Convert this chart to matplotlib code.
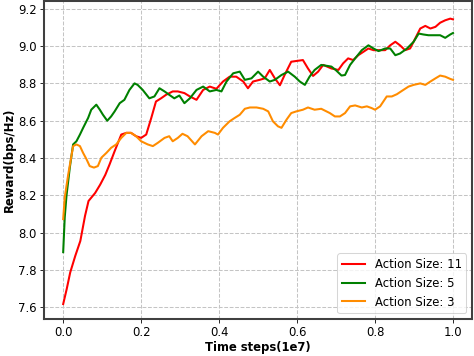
import matplotlib
matplotlib.use('Agg')
import matplotlib.pyplot as plt

'''Data read off the reference chart'''

    # Action Size: 11
red_t = [0.0, 0.009, 0.018, 0.031, 0.044, 0.056, 0.065, 0.082, 0.095, 0.108, 0.119, 0.132,
         0.149, 0.162, 0.174, 0.187, 0.2, 0.213, 0.226, 0.238, 0.251, 0.264, 0.281, 0.294,
         0.311, 0.325, 0.342, 0.359, 0.376, 0.393, 0.41, 0.427, 0.444, 0.462, 0.474, 0.487,
         0.504, 0.517, 0.53, 0.543, 0.556, 0.568, 0.585, 0.598, 0.615, 0.628, 0.641, 0.654,
         0.667, 0.688, 0.706, 0.718, 0.731, 0.744, 0.757, 0.77, 0.783, 0.796, 0.809, 0.826,
         0.839, 0.852, 0.864, 0.877, 0.89, 0.903, 0.916, 0.929, 0.942, 0.955, 0.967, 0.98,
         0.993, 1.0]
red_r = [7.618, 7.698, 7.787, 7.876, 7.956, 8.09, 8.17, 8.213, 8.258, 8.31, 8.366, 8.437,
         8.526, 8.535, 8.535, 8.517, 8.508, 8.526, 8.615, 8.703, 8.72, 8.739, 8.757, 8.757,
         8.748, 8.73, 8.712, 8.765, 8.783, 8.771, 8.81, 8.836, 8.836, 8.81, 8.774, 8.81,
         8.819, 8.827, 8.872, 8.827, 8.79, 8.845, 8.916, 8.92, 8.925, 8.88, 8.84, 8.863,
         8.899, 8.88, 8.872, 8.907, 8.934, 8.925, 8.951, 8.969, 8.987, 8.978, 8.978, 8.978,
         9.004, 9.023, 9.004, 8.978, 8.987, 9.04, 9.094, 9.108, 9.094, 9.103, 9.125, 9.138,
         9.147, 9.143]

    # Action Size: 5
green_t = [0.0, 0.004, 0.0085, 0.017, 0.0255, 0.034, 0.043, 0.051, 0.064, 0.072, 0.085, 0.094,
           0.102, 0.113, 0.123, 0.132, 0.145, 0.157, 0.17, 0.183, 0.191, 0.204, 0.221, 0.234,
           0.247, 0.26, 0.272, 0.285, 0.298, 0.311, 0.325, 0.342, 0.359, 0.376, 0.393, 0.406,
           0.419, 0.436, 0.453, 0.466, 0.483, 0.5, 0.513, 0.53, 0.543, 0.56, 0.577, 0.594,
           0.607, 0.62, 0.632, 0.645, 0.662, 0.688, 0.699, 0.714, 0.723, 0.736, 0.749, 0.766,
           0.783, 0.796, 0.809, 0.826, 0.839, 0.852, 0.864, 0.882, 0.899, 0.912, 0.924, 0.937,
           0.95, 0.967, 0.98, 0.993, 1.0]
green_r = [7.896, 8.083, 8.198, 8.349, 8.473, 8.49, 8.526, 8.561, 8.615, 8.659, 8.686, 8.659,
           8.632, 8.6, 8.623, 8.65, 8.694, 8.712, 8.765, 8.8, 8.792, 8.765, 8.72, 8.73,
           8.774, 8.757, 8.739, 8.72, 8.735, 8.694, 8.72, 8.765, 8.783, 8.757, 8.765, 8.757,
           8.81, 8.854, 8.863, 8.819, 8.827, 8.863, 8.836, 8.81, 8.819, 8.845, 8.863, 8.836,
           8.81, 8.792, 8.836, 8.872, 8.899, 8.89, 8.872, 8.842, 8.845, 8.899, 8.934, 8.978,
           9.004, 8.987, 8.973, 8.987, 8.987, 8.951, 8.96, 8.987, 9.023, 9.067, 9.062, 9.058,
           9.058, 9.058, 9.044, 9.062, 9.07]

    # Action Size: 3
orange_t = [0.0, 0.004, 0.013, 0.0255, 0.034, 0.043, 0.051, 0.06, 0.068, 0.079, 0.089, 0.098,
            0.111, 0.123, 0.136, 0.149, 0.162, 0.174, 0.187, 0.2, 0.217, 0.23, 0.243, 0.26,
            0.272, 0.281, 0.294, 0.306, 0.319, 0.338, 0.355, 0.372, 0.389, 0.397, 0.41, 0.427,
            0.44, 0.453, 0.466, 0.479, 0.496, 0.513, 0.526, 0.538, 0.551, 0.56, 0.573, 0.585,
            0.598, 0.615, 0.628, 0.645, 0.662, 0.684, 0.697, 0.71, 0.723, 0.736, 0.749, 0.766,
            0.779, 0.791, 0.8, 0.813, 0.83, 0.843, 0.856, 0.869, 0.886, 0.899, 0.916, 0.929,
            0.942, 0.955, 0.967, 0.98, 0.993, 1.0]
orange_r = [8.073, 8.189, 8.313, 8.464, 8.473, 8.464, 8.428, 8.393, 8.357, 8.349, 8.357, 8.402,
            8.428, 8.455, 8.473, 8.508, 8.535, 8.535, 8.517, 8.49, 8.473, 8.464, 8.482, 8.508,
            8.517, 8.49, 8.508, 8.53, 8.517, 8.473, 8.517, 8.544, 8.535, 8.526, 8.562, 8.597,
            8.615, 8.632, 8.664, 8.671, 8.671, 8.664, 8.65, 8.597, 8.57, 8.562, 8.606, 8.641,
            8.65, 8.659, 8.671, 8.659, 8.664, 8.641, 8.623, 8.623, 8.641, 8.677, 8.682, 8.671,
            8.677, 8.668, 8.659, 8.677, 8.73, 8.73, 8.742, 8.76, 8.783, 8.792, 8.8, 8.792,
            8.81, 8.827, 8.842, 8.836, 8.824, 8.819]

y_ticks = [7.6, 7.8, 8.0, 8.2, 8.4, 8.6, 8.8, 9.0, 9.2]


'''PLOT GRAPH'''

fig = plt.figure(figsize=(474 / 74, 356 / 74), dpi=74)
ax = fig.add_axes([0.093, 0.104, 0.903, 0.893])

ax.plot(red_t, red_r, color='red', linewidth=2, label='Action Size: 11')
ax.plot(green_t, green_r, color='green', linewidth=2, label='Action Size: 5')
ax.plot(orange_t, orange_r, color='darkorange', linewidth=2, label='Action Size: 3')

ax.set_xlim(-0.049, 1.049)
ax.set_ylim(7.538, 9.241)
ax.set_yticks(y_ticks)
ax.grid(True, linestyle='--', color='#c4c4c4', linewidth=1)

for side in ['left', 'right', 'top', 'bottom']:
    ax.spines[side].set_color('#404040')
    ax.spines[side].set_linewidth(2)

ax.tick_params(labelsize=11.3)
ax.set_xlabel('Time steps(1e7)', fontweight='bold', fontsize=11.3, labelpad=2)
ax.set_ylabel('Reward(bps/Hz)', fontweight='bold', fontsize=11.3, labelpad=2)
ax.legend(loc='lower right', fontsize=11.3)

fig.savefig('out.png', dpi=74)
